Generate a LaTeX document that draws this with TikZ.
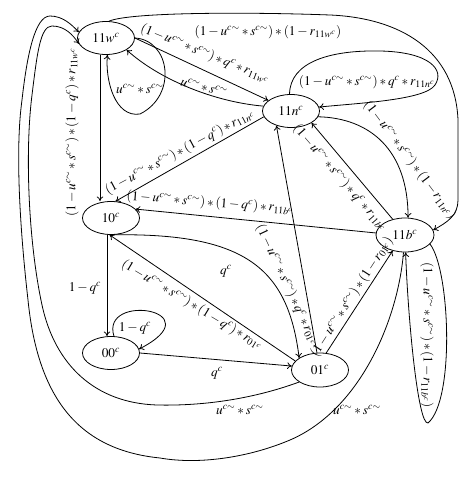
\documentclass[tikz,border=0pt]{standalone}
\usepackage{mathptmx}
\usetikzlibrary{shapes.geometric,arrows.meta}
\newcommand\UnS{u^{c\sim}\ast s^{c\sim}}
\begin{document}
\begin{tikzpicture}[x=0.75pt,y=-0.75pt,
  st/.style={ellipse,draw,line width=0.6pt,inner sep=0pt,minimum width=42.75pt,minimum height=24.75pt},
  edge/.style={line width=0.6pt,-{To[length=3.5pt,width=5pt]}},
  lab/.style={inner sep=0pt}]
\useasboundingbox (0,0) rectangle (474,477);
% states
\node[st] (w) at (106,38) {$11w^c$};
\node[st] (n) at (291,111) {$11n^c$};
\node[st] (t) at (111,218) {$10^c$};
\node[st,minimum width=43.5pt,minimum height=25.5pt] (b) at (405,235) {$11b^c$};
\node[st] (z) at (111,353) {$00^c$};
\node[st,minimum height=25.5pt] (o) at (320,370) {$01^c$};
% 11w -> 10
\draw[edge] ([xshift=-4.5pt]w.south) -- ([xshift=-8.25pt]t.north);
\node[lab,rotate=90] at (72,132) {$(1-\UnS)\ast(1-q^c)\ast r_{11w^c}$};
% 11w -> 11n
\draw[edge] (w.east) -- (n);
\node[lab,rotate=-22] at (205,54) {$(1-\UnS)\ast q^c\ast r_{11w^c}$};
% 11n -> 11w
\draw[edge] (n.170) .. controls (215,102) and (160,80) .. (w.-30);
\node[lab,rotate=-15] at (204,87) {$\UnS$};
% 11w self loop
\draw[edge] (w.east) .. controls (170,40) and (178,95) .. (140,114) .. controls (115,118) and (105,80) .. (w.-85);
\node[lab] at (140,89) {$\UnS$};
% 11w -> 11b (top)
\draw[edge] (w.80) .. controls (130,12) and (250,12) .. (330,15) .. controls (400,18) and (455,50) .. (458,120) -- (458,200) .. controls (458,215) and (448,222) .. (b.10);
\node[lab] at (268,32) {$(1-\UnS)\ast(1-r_{11w^c})$};
% 11n self loop
\draw[edge] (n.95) .. controls (290,62) and (330,50) .. (380,51) .. controls (430,52) and (445,70) .. (435,85) .. controls (425,100) and (360,103) .. (n.8);
\node[lab] at (367,82) {$(1-\UnS)\ast q^c\ast r_{11n^c}$};
% 11n -> 11b
\draw[edge] (n.-12) .. controls (370,118) and (408,150) .. (b.80);
\node[lab,rotate=-53] at (410,160) {$(1-\UnS)\ast(1-r_{11n^c})$};
% 11b -> 11n
\draw[edge] (b.128) -- (n.-30);
\node[lab,rotate=-49] at (340,178) {$(1-\UnS)\ast q^c\ast r_{11b^c}$};
% 11n -> 10
\draw[edge] (n.192) -- (t.75);
\node[lab,rotate=28] at (180,152) {$(1-\UnS)\ast(1-q^c)\ast r_{11n^c}$};
% 11b -> 10
\draw[edge] (b.176) -- (t.20);
\node[lab,rotate=-4.5] at (210,203) {$(1-\UnS)\ast(1-q^c)\ast r_{11b^c}$};
% 01 -> 11n
\draw[edge] (o.100) -- (n.225);
\node[lab,rotate=-65] at (287,285) {$(1-\UnS)\ast q^c\ast r_{01^c}$};
% 10 -> 01
\draw[edge] (t.-80) .. controls (245,233) and (288,268) .. (o.150);
\node[lab] at (226,271) {$q^c$};
% 01 -> 10
\draw[edge] (o.160) -- (t.-95);
\node[lab,rotate=-31] at (192,305) {$(1-\UnS)\ast(1-q^c)\ast r_{01^c}$};
% 01 -> 11b
\draw[edge] (o.70) -- (b.232);
\node[lab,rotate=57] at (352,297) {$(1-\UnS)\ast(1-r_{01^c})$};
% 10 -> 00
\draw[edge] ([xshift=-3pt]t.south) -- ([xshift=-3pt]z.north);
\node[lab] at (85,288) {$1-q^c$};
% 00 self loop
\draw[edge] (z.80) .. controls (100,292) and (215,310) .. (z.8);
\node[lab] at (135,328) {$1-q^c$};
% 00 -> 01
\draw[edge] (z.east) -- (o.172);
\node[lab] at (217,373) {$q^c$};
% 01 -> 11w (inner)
\draw[edge] (o.210) .. controls (250,400) and (200,406) .. (157,405) .. controls (95,403) and (55,365) .. (42,305) .. controls (28,240) and (25,150) .. (32,95) .. controls (37,55) and (40,26) .. (52,26) .. controls (65,26) and (73,35) .. (w.192);
\node[lab] at (240,410) {$\UnS$};
% 11b -> 11w (outer)
\draw[edge] (b.-95) .. controls (398,320) and (360,410) .. (290,440) .. controls (250,457) and (200,465) .. (160,458) .. controls (80,450) and (38,400) .. (28,300) .. controls (20,230) and (15,150) .. (22,100) .. controls (27,55) and (35,16) .. (50,16) .. controls (63,16) and (72,25) .. (w.168);
\node[lab] at (357,410) {$\UnS$};
% 11b self loop
\draw[edge] (b.-20) .. controls (450,270) and (455,400) .. (428,423) .. controls (418,425) and (408,320) .. (b.-88);
\node[lab,rotate=-90] at (427,335) {$(1-\UnS)\ast(1-r_{11b^c})$};
\end{tikzpicture}
\end{document}
